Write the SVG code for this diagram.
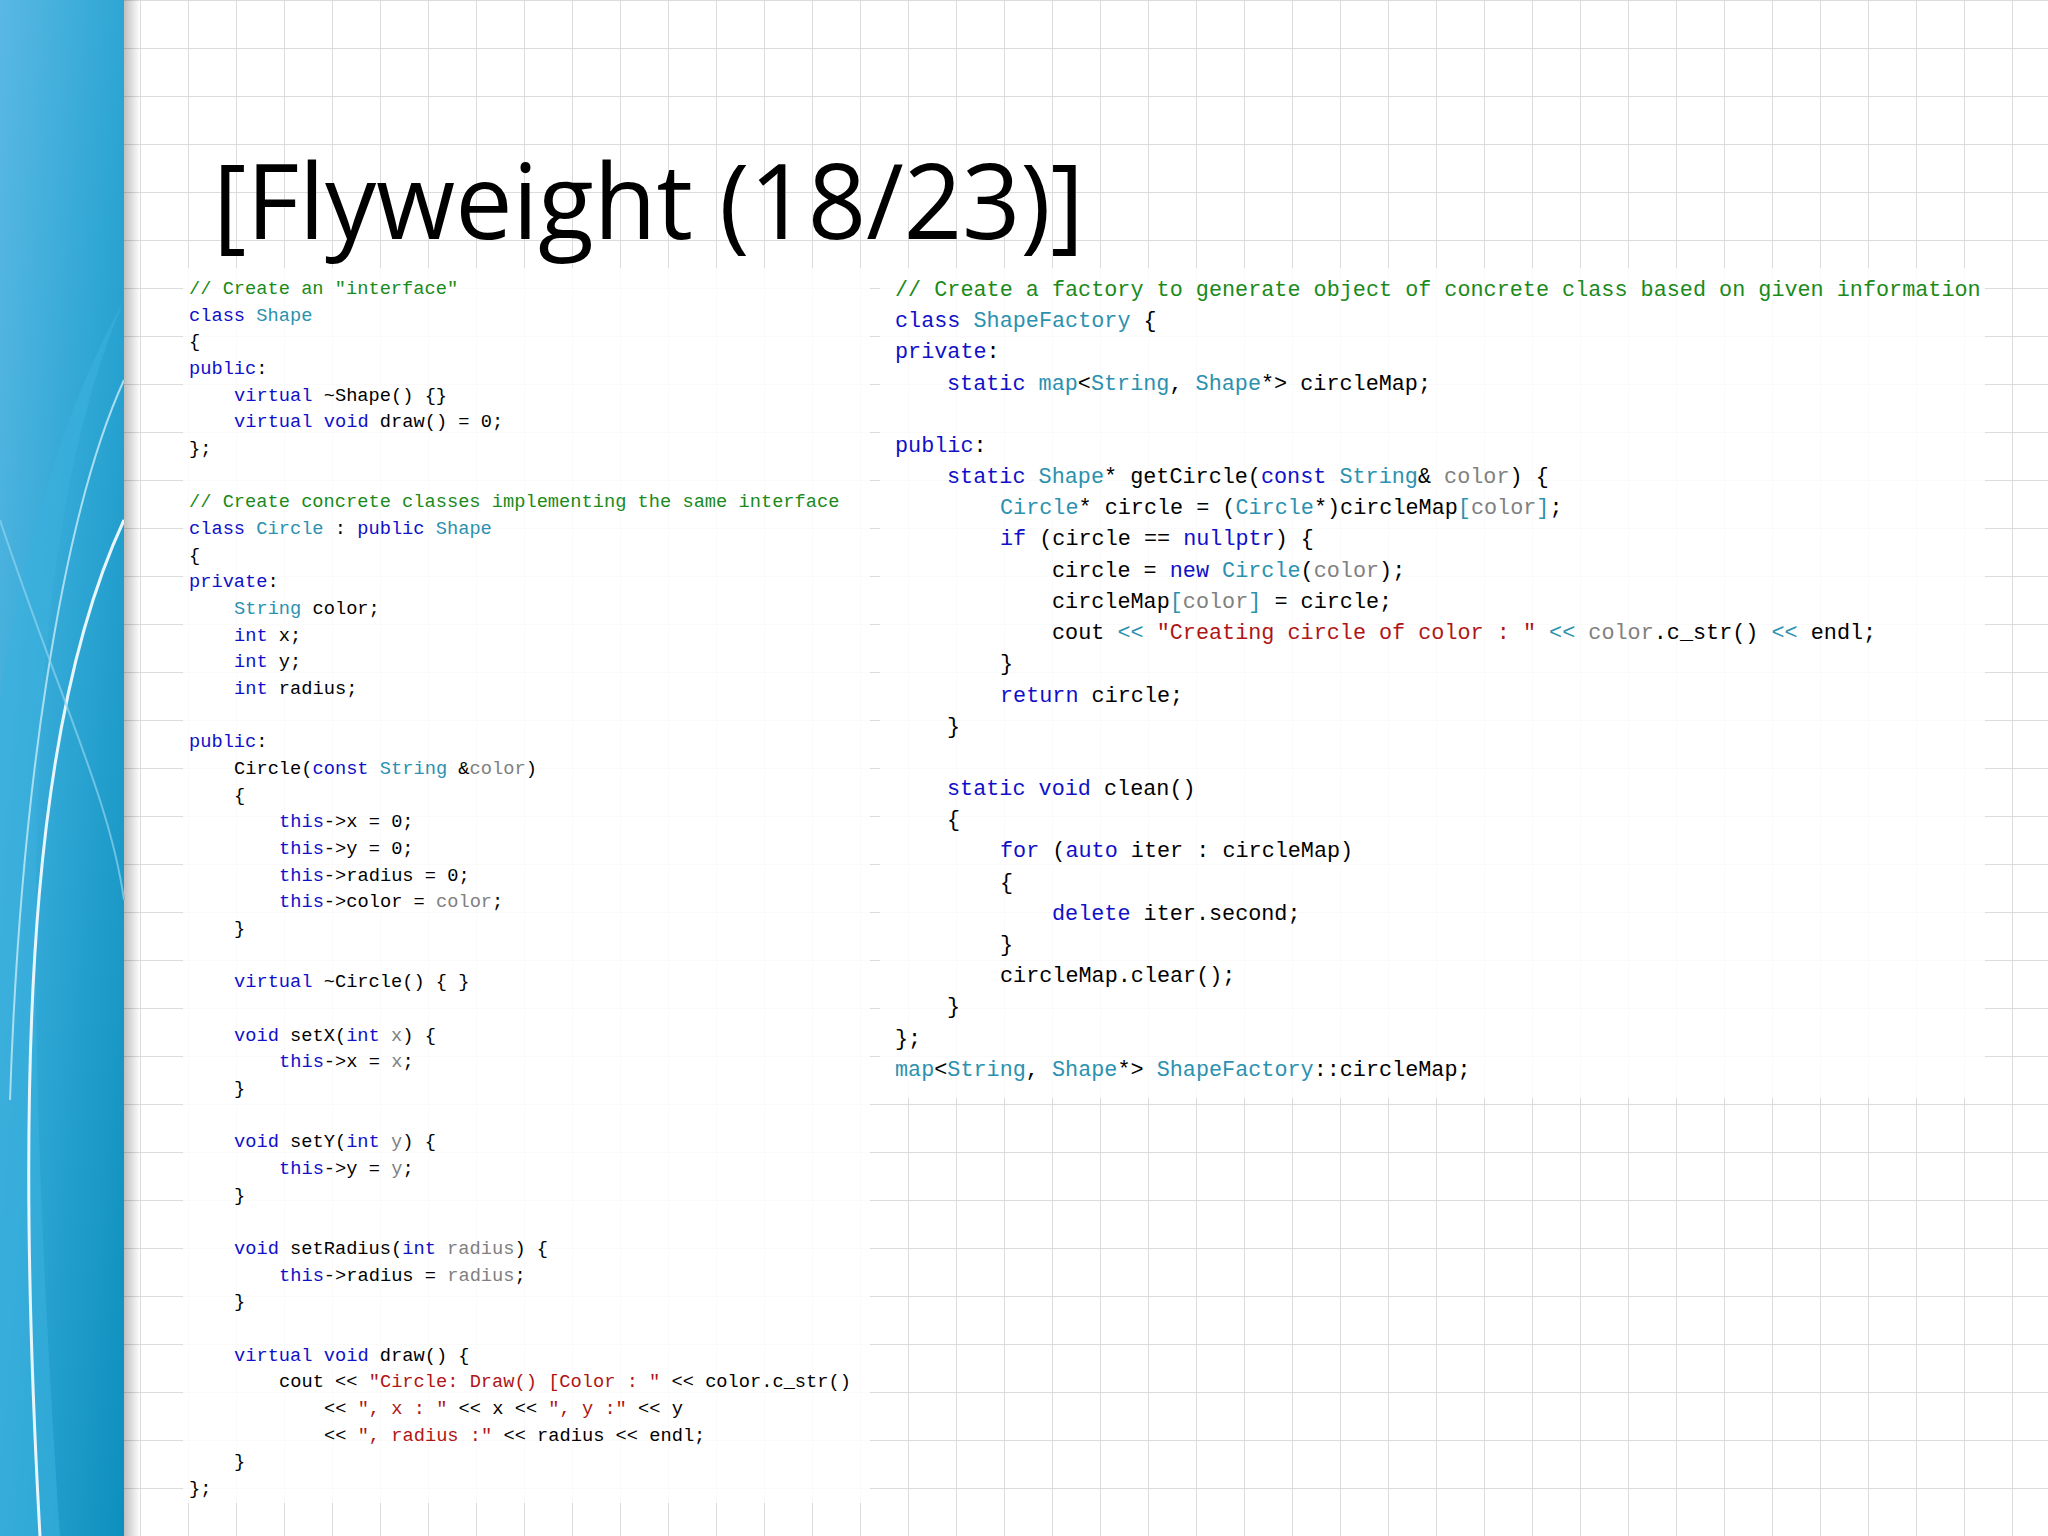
<svg xmlns="http://www.w3.org/2000/svg" width="2048" height="1536" viewBox="0 0 2048 1536">
<defs>
<pattern id="grid" width="48" height="48" patternUnits="userSpaceOnUse" x="140" y="0">
<rect width="48" height="48" fill="#fff"/>
<path d="M0 0H48M0 0V48" stroke="#dcdcdc" stroke-width="2" fill="none"/>
</pattern>
<linearGradient id="blue" x1="0" y1="0" x2="1" y2="1">
<stop offset="0" stop-color="#5ab8e4"/>
<stop offset="0.5" stop-color="#2ea6d4"/>
<stop offset="1" stop-color="#0d8fbd"/>
</linearGradient>
<linearGradient id="shadow" x1="0" x2="1">
<stop offset="0" stop-color="#000" stop-opacity="0.25"/>
<stop offset="1" stop-color="#000" stop-opacity="0"/>
</linearGradient>
</defs>
<style>
.c{font-family:"Liberation Mono",monospace;white-space:pre;fill:#000}
.l{font-size:18.7px}
.r{font-size:21.8px}
.cm{fill:#1a8a1a}
.kw{fill:#1010c8}
.ty{fill:#2b91af}
.st{fill:#b01515}
.pa{fill:#808080}
</style>
<rect width="2048" height="1536" fill="url(#grid)"/>
<rect x="183" y="268" width="687" height="1235" fill="#fff" opacity="0.85"/>
<rect x="880" y="268" width="1105" height="830" fill="#fff" opacity="0.85"/>
<g id="sidebar">
<rect x="0" y="0" width="124" height="1536" fill="url(#blue)"/>
<path d="M124 300 C40 500 10 800 60 1536 L0 1536 L0 700 C30 500 80 380 124 300Z" fill="#3bb0dd" opacity="0.6"/>
<path d="M124 520 C40 700 10 1000 40 1536" stroke="#e8f6fc" stroke-width="3" fill="none"/>
<path d="M124 380 C60 520 20 800 10 1100" stroke="#a9def2" stroke-width="2" fill="none"/>
<path d="M0 520 C60 700 110 800 124 900" stroke="#8fd3ee" stroke-width="2" fill="none" opacity="0.7"/>
<rect x="124" y="0" width="16" height="1536" fill="url(#shadow)"/>
</g>
<g id="title">
<text x="213" y="239" font-family="'Open Sans','Noto Sans',sans-serif" font-size="104" textLength="871" lengthAdjust="spacingAndGlyphs" fill="#000">[Flyweight (18/23)]</text>
</g>
<g id="left-code" class="c l" xml:space="preserve">
<text x="189" y="294"><tspan class="cm">// Create an "interface"</tspan></text>
<text x="189" y="321"><tspan class="kw">class</tspan> <tspan class="ty">Shape</tspan></text>
<text x="189" y="347">{</text>
<text x="189" y="374"><tspan class="kw">public</tspan>:</text>
<text x="234" y="401"><tspan class="kw">virtual</tspan> ~Shape() {}</text>
<text x="234" y="427"><tspan class="kw">virtual</tspan> <tspan class="kw">void</tspan> draw() = 0;</text>
<text x="189" y="454">};</text>
<text x="189" y="507"><tspan class="cm">// Create concrete classes implementing the same interface</tspan></text>
<text x="189" y="534"><tspan class="kw">class</tspan> <tspan class="ty">Circle</tspan> : <tspan class="kw">public</tspan> <tspan class="ty">Shape</tspan></text>
<text x="189" y="561">{</text>
<text x="189" y="587"><tspan class="kw">private</tspan>:</text>
<text x="234" y="614"><tspan class="ty">String</tspan> color;</text>
<text x="234" y="641"><tspan class="kw">int</tspan> x;</text>
<text x="234" y="667"><tspan class="kw">int</tspan> y;</text>
<text x="234" y="694"><tspan class="kw">int</tspan> radius;</text>
<text x="189" y="747"><tspan class="kw">public</tspan>:</text>
<text x="234" y="774">Circle(<tspan class="kw">const</tspan> <tspan class="ty">String</tspan> &amp;<tspan class="pa">color</tspan>)</text>
<text x="234" y="801">{</text>
<text x="279" y="827"><tspan class="kw">this</tspan>-&gt;x = 0;</text>
<text x="279" y="854"><tspan class="kw">this</tspan>-&gt;y = 0;</text>
<text x="279" y="881"><tspan class="kw">this</tspan>-&gt;radius = 0;</text>
<text x="279" y="907"><tspan class="kw">this</tspan>-&gt;color = <tspan class="pa">color</tspan>;</text>
<text x="234" y="934">}</text>
<text x="234" y="987"><tspan class="kw">virtual</tspan> ~Circle() { }</text>
<text x="234" y="1041"><tspan class="kw">void</tspan> setX(<tspan class="kw">int</tspan> <tspan class="pa">x</tspan>) {</text>
<text x="279" y="1067"><tspan class="kw">this</tspan>-&gt;x = <tspan class="pa">x</tspan>;</text>
<text x="234" y="1094">}</text>
<text x="234" y="1147"><tspan class="kw">void</tspan> setY(<tspan class="kw">int</tspan> <tspan class="pa">y</tspan>) {</text>
<text x="279" y="1174"><tspan class="kw">this</tspan>-&gt;y = <tspan class="pa">y</tspan>;</text>
<text x="234" y="1201">}</text>
<text x="234" y="1254"><tspan class="kw">void</tspan> setRadius(<tspan class="kw">int</tspan> <tspan class="pa">radius</tspan>) {</text>
<text x="279" y="1281"><tspan class="kw">this</tspan>-&gt;radius = <tspan class="pa">radius</tspan>;</text>
<text x="234" y="1307">}</text>
<text x="234" y="1361"><tspan class="kw">virtual</tspan> <tspan class="kw">void</tspan> draw() {</text>
<text x="279" y="1387">cout &lt;&lt; <tspan class="st">"Circle: Draw() [Color : "</tspan> &lt;&lt; color.c_str()</text>
<text x="324" y="1414">&lt;&lt; <tspan class="st">", x : "</tspan> &lt;&lt; x &lt;&lt; <tspan class="st">", y :"</tspan> &lt;&lt; y</text>
<text x="324" y="1441">&lt;&lt; <tspan class="st">", radius :"</tspan> &lt;&lt; radius &lt;&lt; endl;</text>
<text x="234" y="1467">}</text>
<text x="189" y="1494">};</text>
</g>
<g id="right-code" class="c r" xml:space="preserve">
<text x="895" y="296"><tspan class="cm">// Create a factory to generate object of concrete class based on given information</tspan></text>
<text x="895" y="327"><tspan class="kw">class</tspan> <tspan class="ty">ShapeFactory</tspan> {</text>
<text x="895" y="358"><tspan class="kw">private</tspan>:</text>
<text x="947" y="390"><tspan class="kw">static</tspan> <tspan class="ty">map</tspan>&lt;<tspan class="ty">String</tspan>, <tspan class="ty">Shape</tspan>*&gt; circleMap;</text>
<text x="895" y="452"><tspan class="kw">public</tspan>:</text>
<text x="947" y="483"><tspan class="kw">static</tspan> <tspan class="ty">Shape</tspan>* getCircle(<tspan class="kw">const</tspan> <tspan class="ty">String</tspan>&amp; <tspan class="pa">color</tspan>) {</text>
<text x="1000" y="514"><tspan class="ty">Circle</tspan>* circle = (<tspan class="ty">Circle</tspan>*)circleMap<tspan class="ty">[</tspan><tspan class="pa">color</tspan><tspan class="ty">]</tspan>;</text>
<text x="1000" y="545"><tspan class="kw">if</tspan> (circle == <tspan class="kw">nullptr</tspan>) {</text>
<text x="1052" y="577">circle = <tspan class="kw">new</tspan> <tspan class="ty">Circle</tspan>(<tspan class="pa">color</tspan>);</text>
<text x="1052" y="608">circleMap<tspan class="ty">[</tspan><tspan class="pa">color</tspan><tspan class="ty">]</tspan> = circle;</text>
<text x="1052" y="639">cout <tspan class="ty">&lt;&lt;</tspan> <tspan class="st">"Creating circle of color : "</tspan> <tspan class="ty">&lt;&lt;</tspan> <tspan class="pa">color</tspan>.c_str() <tspan class="ty">&lt;&lt;</tspan> endl;</text>
<text x="1000" y="670">}</text>
<text x="1000" y="702"><tspan class="kw">return</tspan> circle;</text>
<text x="947" y="733">}</text>
<text x="947" y="795"><tspan class="kw">static</tspan> <tspan class="kw">void</tspan> clean()</text>
<text x="947" y="826">{</text>
<text x="1000" y="857"><tspan class="kw">for</tspan> (<tspan class="kw">auto</tspan> iter : circleMap)</text>
<text x="1000" y="889">{</text>
<text x="1052" y="920"><tspan class="kw">delete</tspan> iter.second;</text>
<text x="1000" y="951">}</text>
<text x="1000" y="982">circleMap.clear();</text>
<text x="947" y="1013">}</text>
<text x="895" y="1045">};</text>
<text x="895" y="1076"><tspan class="ty">map</tspan>&lt;<tspan class="ty">String</tspan>, <tspan class="ty">Shape</tspan>*&gt; <tspan class="ty">ShapeFactory</tspan>::circleMap;</text>
</g>
</svg>
